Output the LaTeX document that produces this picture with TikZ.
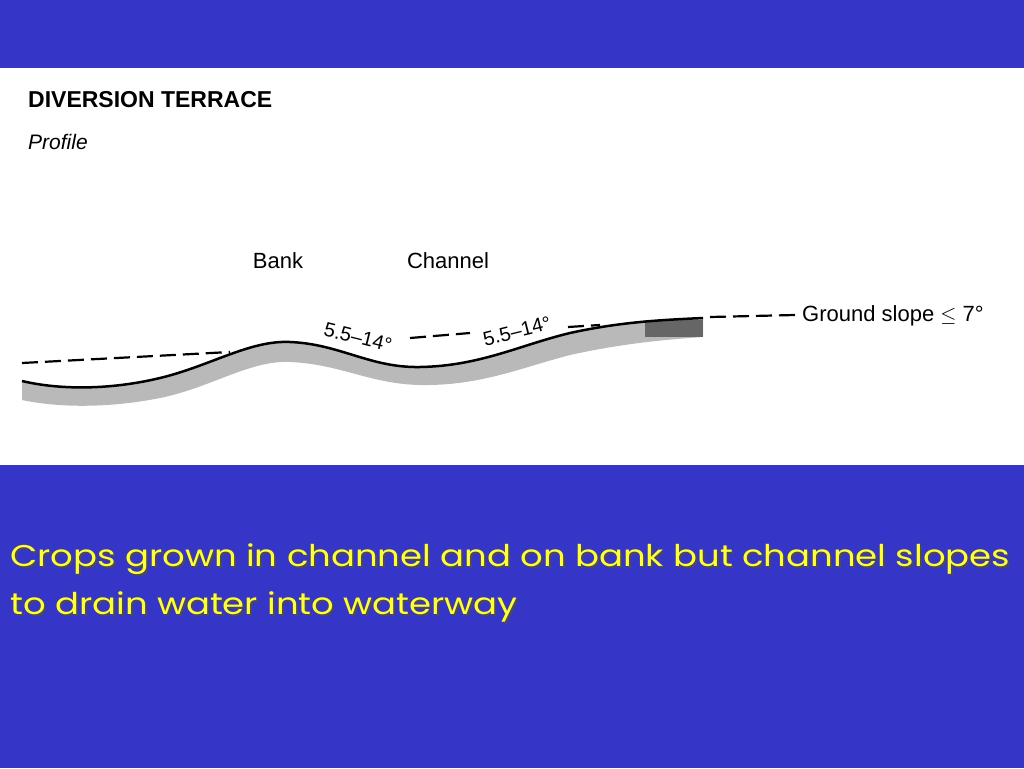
\documentclass[tikz,border=0pt]{standalone}
\usepackage{fontspec}
\setmainfont{Liberation Sans}
\newfontfamily\capfont{Poppins}
\definecolor{bg}{HTML}{3535C8}
\definecolor{capy}{HTML}{FFFF33}
\begin{document}
\begin{tikzpicture}[x=1pt,y=-1pt,
  lbl/.style={inner sep=0pt,font=\fontsize{22}{26}\selectfont},
  dashln/.style={dash pattern=on 16pt off 7pt,line width=2.2pt},
  captxt/.style={inner sep=0pt,anchor=west,text=capy,xscale=1.18,font=\capfont\fontsize{30}{36}\selectfont}]
\useasboundingbox (0,0) rectangle (1024,768);
\fill[bg] (0,0) rectangle (1024,768);
\fill[white] (0,68) rectangle (1024,465);
\node[lbl,anchor=west,font=\bfseries\fontsize{23}{27}\selectfont] (title) at (28,100) {DIVERSION TERRACE};
\node[lbl,anchor=west,font=\itshape\fontsize{21}{25}\selectfont] (prof) at (28,142) {Profile};
\node[lbl] (bank) at (278,261) {Bank};
\node[lbl] (chan) at (448,261) {Channel};
\fill[gray!55] (22,381) .. controls (60,390) and (110,390) .. (160,378)
 .. controls (210,366) and (250,340) .. (290,342)
 .. controls (340,344) and (370,368) .. (420,367)
 .. controls (480,366) and (520,345) .. (570,333)
 .. controls (620,322) and (660,320) .. (703,318)
 -- (703,337) .. controls (660,340) and (620,344) .. (570,355)
 .. controls (520,368) and (480,386) .. (420,385)
 .. controls (370,384) and (340,364) .. (290,362)
 .. controls (250,360) and (210,388) .. (160,398)
 .. controls (110,408) and (60,408) .. (22,400) -- cycle;
\fill[gray!80!black] (645,320) rectangle (703,337);
\draw[line width=2.5pt] (22,381) .. controls (60,390) and (110,390) .. (160,378)
 .. controls (210,366) and (250,340) .. (290,342)
 .. controls (340,344) and (370,368) .. (420,367)
 .. controls (480,366) and (520,345) .. (570,333)
 .. controls (620,322) and (660,320) .. (703,318);
\draw[dashln] (22,363) -- (230,352);
\draw[dashln] (410,338) -- (470,333);
\draw[dashln] (568,327) -- (600,325);
\draw[dashln] (710,317) -- (795,315);
\node[lbl,rotate=-14,font=\fontsize{20}{24}\selectfont] (a1) at (358,337) {5.5–14°};
\node[lbl,rotate=14,font=\fontsize{20}{24}\selectfont] (a2) at (517,331) {5.5–14°};
\node[lbl,anchor=west] (gs) at (802,316) {Ground slope $\leq$ 7°};
\node[captxt,text=black!70] at (12,561) {Crops grown in channel and on bank but channel slopes};
\node[captxt] (c1) at (10,559) {Crops grown in channel and on bank but channel slopes};
\node[captxt,text=black!70] at (12,609) {to drain water into waterway};
\node[captxt] (c2) at (10,607) {to drain water into waterway};
\end{tikzpicture}
\end{document}
